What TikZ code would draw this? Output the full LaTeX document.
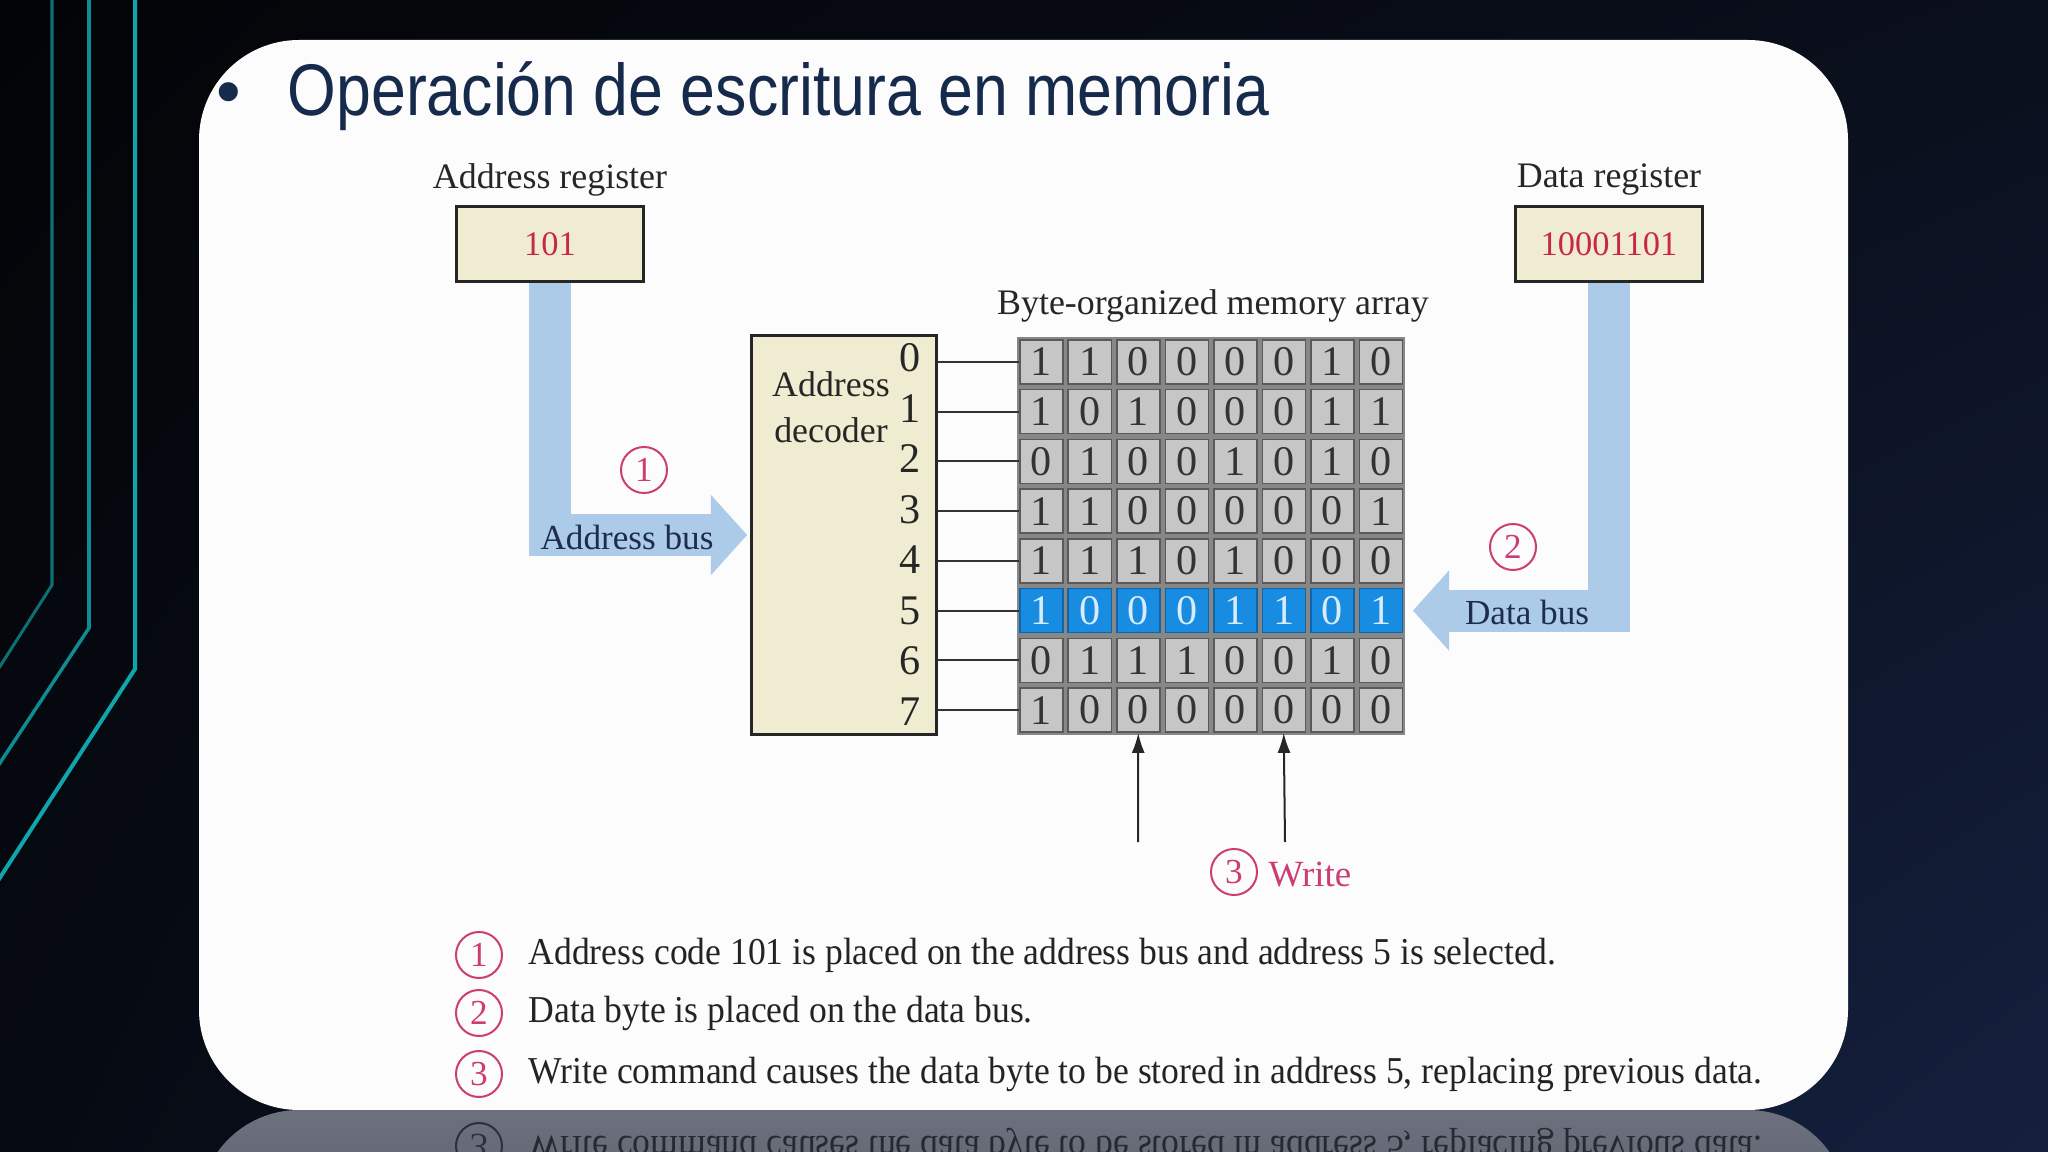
\documentclass[tikz,border=0pt]{standalone}
\usepackage{fontspec}
\usepackage{graphicx}
\setmainfont{Liberation Serif}
\newfontfamily\titlefont{Liberation Sans}
\usetikzlibrary{arrows.meta,shadings}
\definecolor{bgTL}{RGB}{3,4,7}
\definecolor{bgTR}{RGB}{10,15,28}
\definecolor{bgBL}{RGB}{6,10,18}
\definecolor{bgBR}{RGB}{20,32,62}
\definecolor{tealA}{RGB}{12,112,118}
\definecolor{tealB}{RGB}{14,140,146}
\definecolor{tealC}{RGB}{16,165,170}
\definecolor{titlenavy}{RGB}{22,42,76}
\definecolor{regfill}{RGB}{240,236,210}
\definecolor{numred}{RGB}{200,40,70}
\definecolor{busblue}{RGB}{172,203,232}
\definecolor{bustext}{RGB}{30,45,75}
\definecolor{cellfill}{RGB}{198,198,198}
\definecolor{cellline}{RGB}{90,90,90}
\definecolor{arraybg}{RGB}{135,135,135}
\definecolor{hotblue}{RGB}{24,140,225}
\definecolor{hotline}{RGB}{15,100,170}
\definecolor{hottext}{RGB}{215,236,255}
\definecolor{numpink}{RGB}{205,60,115}
\definecolor{legtext}{RGB}{35,35,35}
\definecolor{reflA}{RGB}{108,113,125}
\definecolor{reflB}{RGB}{62,68,84}
\tikzset{
  lbl/.style={font=\fontsize{10.2}{13}\selectfont, text=black!85, inner sep=0pt},
  reg/.style={draw=black!85, line width=0.03cm, fill=regfill, minimum width=1.86cm,
    minimum height=0.75cm, inner sep=0pt, text=numred, font=\fontsize{9.8}{11}\selectfont},
  decbox/.style={draw=black!85, line width=0.03cm, fill=regfill, minimum width=1.84cm,
    minimum height=3.98cm, inner sep=0pt},
  cell/.style={draw=cellline, line width=0.015cm, fill=cellfill, minimum width=0.43cm,
    minimum height=0.44cm, inner sep=0pt, font=\fontsize{12}{12}\selectfont, text=black!80},
  hot/.style={cell, fill=hotblue, draw=hotline, text=hottext},
  bus/.style={draw=busblue, line width=0.42cm, line join=miter,
    -{Triangle[length=0.36cm, width=0.8cm, line width=0.1pt]}},
  bustxt/.style={font=\fontsize{10}{12}\selectfont, text=bustext, inner sep=0pt},
  numc/.style={circle, draw=numpink, line width=0.02cm, minimum size=0.46cm, inner sep=0pt,
    text=numpink, font=\fontsize{10}{10}\selectfont},
  wr/.style={line width=0.02cm, black!85, -{Latex[length=0.2cm, width=0.13cm]}},
  legend/.style={anchor=west, inner sep=0pt, text=legtext, font=\fontsize{10.8}{12}\selectfont}
}
\newcommand{\sq}[2]{\scalebox{#1}[1]{#2}}
\begin{document}
\begin{tikzpicture}[x=0.01cm, y=-0.01cm]
  \useasboundingbox (0,0) rectangle (2048,1152);
  \clip (0,0) rectangle (2048,1152);
  \shade[upper left=bgTL, upper right=bgTR, lower left=bgBL, lower right=bgBR]
    (0,0) rectangle (2048,1152);
  \draw[tealA, line width=0.03cm] (52,-5) -- (52,585) -- (-10,682);
  \draw[tealB, line width=0.035cm] (89,-5) -- (89,628) -- (-10,778);
  \draw[tealC, line width=0.04cm] (135,-5) -- (135,669) -- (-10,893);
  \fill[white!99!black, rounded corners=1cm] (199,40) rectangle (1848,1110);
  \begin{scope}
    \clip (0,1110) rectangle (2048,1152);
    \shade[top color=reflA, bottom color=reflB, rounded corners=1cm] (199,1110) rectangle (1848,1400);
    \node[numc, draw=reflB!70!black, text=reflB!70!black, yscale=-1, transform shape] (r3c) at (479,1146) {3};
    \node[legend, text=reflB!60!black] (r3) at (528,1146)
      {\scalebox{0.937}[-1]{Write command causes the data byte to be stored in address 5, replacing previous data.}};
  \end{scope}
  \node[inner sep=0pt, text=titlenavy, font=\titlefont\fontsize{20}{20}\selectfont] (bullet) at (229,99) {•};
  \node[anchor=base west, inner sep=0pt, text=titlenavy, font=\titlefont\fontsize{20.8}{24}\selectfont]
    (title) at (287,116) {\sq{0.856}{Operación de escritura en memoria}};
  \node[lbl] (alabel) at (550,180) {Address register};
  \node[reg] (areg) at (550,244) {101};
  \node[lbl] (dlabel) at (1609,180) {Data register};
  \node[reg] (dreg) at (1609,244) {10001101};
  \node[lbl] (mlabel) at (1213,306) {Byte-organized memory array};
  \node[decbox] (dec) at (844,535) {};
  \node[lbl, align=center] (dectext) at (831,407) {Address\\decoder};
  \draw[font=\fontsize{12}{12}\selectfont, text=black!85, inner sep=0pt]
    (910,358) node (n0){0}
    (910,409) node (n1){1}
    (910,459) node (n2){2}
    (910,510) node (n3){3}
    (910,560) node (n4){4}
    (910,611) node (n5){5}
    (910,661) node (n6){6}
    (910,712) node (n7){7};
  \fill[arraybg] (1017,337) rectangle (1405,735);
  \foreach \b [count=\i from 0] in {1,1,0,0,0,0,1,0}
    \node[cell] (c0\i) at ({1041.25+48.5*\i},361.9) {\b};
  \foreach \b [count=\i from 0] in {1,0,1,0,0,0,1,1}
    \node[cell] (c1\i) at ({1041.25+48.5*\i},411.6) {\b};
  \foreach \b [count=\i from 0] in {0,1,0,0,1,0,1,0}
    \node[cell] (c2\i) at ({1041.25+48.5*\i},461.4) {\b};
  \foreach \b [count=\i from 0] in {1,1,0,0,0,0,0,1}
    \node[cell] (c3\i) at ({1041.25+48.5*\i},511.1) {\b};
  \foreach \b [count=\i from 0] in {1,1,1,0,1,0,0,0}
    \node[cell] (c4\i) at ({1041.25+48.5*\i},560.9) {\b};
  \foreach \b [count=\i from 0] in {1,0,0,0,1,1,0,1}
    \node[hot] (c5\i) at ({1041.25+48.5*\i},610.6) {\b};
  \foreach \b [count=\i from 0] in {0,1,1,1,0,0,1,0}
    \node[cell] (c6\i) at ({1041.25+48.5*\i},660.4) {\b};
  \foreach \b [count=\i from 0] in {1,0,0,0,0,0,0,0}
    \node[cell] (c7\i) at ({1041.25+48.5*\i},710.1) {\b};
  \begin{scope}[-, line width=0.02cm, black!80]
    \draw (dec.east |- c00) -- (c00.west);
    \draw (dec.east |- c10) -- (c10.west);
    \draw (dec.east |- c20) -- (c20.west);
    \draw (dec.east |- c30) -- (c30.west);
    \draw (dec.east |- c40) -- (c40.west);
    \draw (dec.east |- c50) -- (c50.west);
    \draw (dec.east |- c60) -- (c60.west);
    \draw (dec.east |- c70) -- (c70.west);
  \end{scope}
  \draw[bus, shorten >=0.035cm] (areg.south) |- (dec.west);
  \draw[bus, shorten >=0.1cm] (dreg.south) |- (c57.east);
  \node[bustxt] (abus) at (627,537) {Address bus};
  \node[bustxt] (dbus) at (1527,612) {Data bus};
  \node[numc] (s1) at (644,470) {1};
  \node[numc] (s2) at (1513,547) {2};
  \coordinate (w1) at (1138,842);
  \coordinate (w2) at (1285,842);
  \draw[wr] (w1) -- (c72.south);
  \draw[wr] (w2) -- (c75.south);
  \node[numc] (s3) at (1234,872) {3};
  \node[anchor=west, inner sep=0pt, text=numpink, font=\fontsize{10.5}{12}\selectfont] (write) at (1268,875) {Write};
  \node[numc] (l1c) at (479,955) {1};
  \node[legend] (l1) at (528,955) {\sq{0.937}{Address code 101 is placed on the address bus and address 5 is selected.}};
  \node[numc] (l2c) at (479,1013) {2};
  \node[legend] (l2) at (528,1013) {\sq{0.937}{Data byte is placed on the data bus.}};
  \node[numc] (l3c) at (479,1074) {3};
  \node[legend] (l3) at (528,1074) {\sq{0.937}{Write command causes the data byte to be stored in address 5, replacing previous data.}};
\end{tikzpicture}
\end{document}
